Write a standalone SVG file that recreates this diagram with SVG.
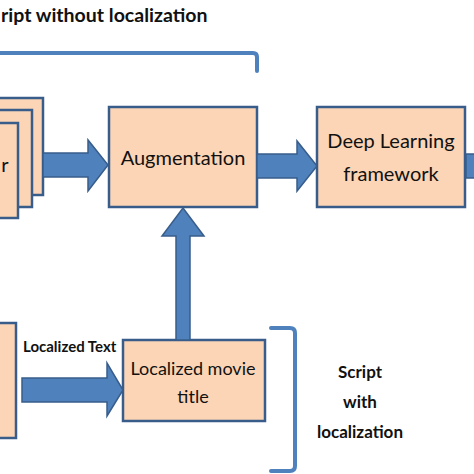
<svg xmlns="http://www.w3.org/2000/svg" width="474" height="474" viewBox="0 0 474 474">
<style>
.box{fill:#fbd5b5;stroke:#385d8a;stroke-width:2.5}
.arr{fill:#4f81bd;stroke:#385d8a;stroke-width:1.5}
.br{fill:none;stroke:#4f81bd;stroke-width:4;stroke-linejoin:round;stroke-linecap:round}
.t{font-family:Lato,"Liberation Sans",sans-serif;font-size:20px;fill:#111;text-anchor:middle}
.b{font-family:Lato,"Liberation Sans",sans-serif;font-weight:bold;fill:#111}
.s18{font-size:18px}
</style>
<rect width="474" height="474" fill="#fff"/>
<g id="label-top"><text class="b" x="1" y="22" font-size="19.5">ript without localization</text></g>
<g id="bracket-top"><path class="br" d="M-5,53 H253 Q257,53 257,57 V71"/></g>
<g id="stack">
<rect class="box" x="-20" y="98" width="63" height="97"/>
<rect class="box" x="-20" y="110" width="52" height="97"/>
<rect class="box" x="-20" y="123" width="38" height="95"/>
<text class="t" x="5" y="172">r</text>
</g>
<g id="augmentation">
<rect class="box" x="109" y="107" width="148" height="100"/>
<text class="t" x="183" y="165">Augmentation</text>
</g>
<g id="deep-learning">
<rect class="box" x="317" y="107" width="148" height="100"/>
<text class="t" x="391" y="148">Deep Learning</text>
<text class="t" x="391" y="181">framework</text>
</g>
<g id="local-src">
<rect class="box" x="-20" y="323" width="36" height="115"/>
</g>
<g id="localized-title">
<rect class="box" x="123" y="340" width="142" height="81"/>
<text class="t s18" x="193" y="375">Localized movie</text>
<text class="t s18" x="193" y="403">title</text>
</g>
<g id="label-script-with">
<text class="b" x="360" y="378" font-size="17" text-anchor="middle">Script</text>
<text class="b" x="360" y="408" font-size="17" text-anchor="middle">with</text>
<text class="b" x="360" y="438" font-size="17" text-anchor="middle">localization</text>
</g>
<g id="connectors">
<polygon class="arr" points="43,153 88,153 88,140 108,165 88,191 88,177 43,177"/>
<polygon class="arr" points="257,154 297,154 297,141 317,166 297,191 297,178 257,178"/>
<polygon class="arr" points="466,154 476,154 476,178 466,178"/>
<polygon class="arr" points="176,340 176,236 162,236 183,208 204,236 190,236 190,340"/>
<polygon class="arr" points="22,378 107,378 107,363 123,390 107,416 107,402 22,402"/>
<path class="br" d="M271,328 H290 Q295,328 295,333 V466 Q295,471 290,471 H271"/>
<text class="b" x="23" y="352" font-size="15">Localized Text</text>
</g>
</svg>
